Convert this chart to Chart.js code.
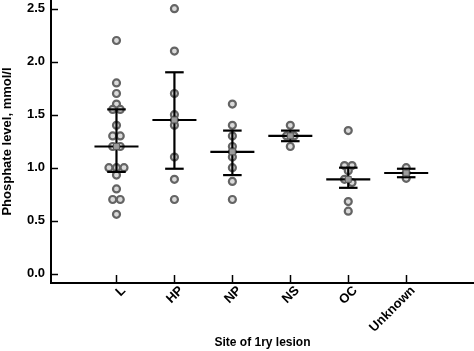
<!DOCTYPE html>
<html>
<head>
<meta charset="utf-8">
<script src="https://cdn.jsdelivr.net/npm/chart.js@4/dist/chart.umd.min.js"></script>
<style>
html,body{margin:0;padding:0;background:#fff;}
canvas{display:block;}
</style>
</head>
<body>
<canvas id="c" width="474" height="351"></canvas>
<script>
// ---- data ----
const categories = ['L', 'HP', 'NP', 'NS', 'OC', 'Unknown'];
const valuesL  = [2.2, 1.8, 1.7, 1.6, 1.55, 1.55, 1.4, 1.3, 1.3, 1.2, 1.2, 1.0, 1.0, 1.0, 0.93, 0.8, 0.7, 0.7, 0.56];
const valuesHP = [2.5, 2.1, 1.7, 1.5, 1.45, 1.4, 1.1, 0.89, 0.7];
const valuesNP = [1.6, 1.4, 1.3, 1.2, 1.15, 1.1, 1.0, 0.87, 0.7];
const valuesNS = [1.4, 1.3, 1.3, 1.2];
const valuesOC = [1.35, 1.02, 1.02, 0.97, 0.89, 0.86, 0.68, 0.59];
const valuesUnknown = [1.0, 0.95, 0.9];
const means    = [1.2, 1.45, 1.15, 1.3, 0.89, 0.95];
const sdUpper  = [1.55, 1.9, 1.35, 1.35, 1.0, 0.99];
const sdLower  = [0.96, 0.99, 0.93, 1.25, 0.81, 0.91];
const yTicks   = [0, 0.5, 1.0, 1.5, 2.0, 2.5];

const groups = [valuesL, valuesHP, valuesNP, valuesNS, valuesOC, valuesUnknown];

// simple symmetric dot-plot spreading of (near) equal values
const STEP = 0.13, TOL = 0.045;
const points = [];
groups.forEach((vals, gi) => {
  const sorted = vals.slice().sort((a, b) => b - a);
  let i = 0;
  while (i < sorted.length) {
    let j = i + 1;
    while (j < sorted.length && Math.abs(sorted[j] - sorted[i]) < TOL) j++;
    const n = j - i;
    for (let k = 0; k < n; k++) {
      points.push({ x: gi + 1 + (k - (n - 1) / 2) * STEP, y: sorted[i + k] });
    }
    i = j;
  }
});
const meanPoints = means.map((m, i) => ({ x: i + 1, y: m }));

const FONT = "'Liberation Sans', Arial, sans-serif";

const errorBars = {
  id: 'errorBars',
  afterDatasetDraw(chart, args) {
    if (args.index !== 1) return;
    const { ctx, scales: { x, y } } = chart;
    ctx.save();
    ctx.strokeStyle = '#000';
    ctx.lineWidth = 2.2;
    ctx.lineCap = 'butt';
    means.forEach((m, i) => {
      const c = i + 1;
      const xc = x.getPixelForValue(c);
      const seg = (x1, y1, x2, y2) => { ctx.beginPath(); ctx.moveTo(x1, y1); ctx.lineTo(x2, y2); ctx.stroke(); };
      seg(xc, y.getPixelForValue(sdUpper[i]), xc, y.getPixelForValue(sdLower[i]));
      const cl = x.getPixelForValue(c - 0.16), cr = x.getPixelForValue(c + 0.16);
      seg(cl, y.getPixelForValue(sdUpper[i]), cr, y.getPixelForValue(sdUpper[i]));
      seg(cl, y.getPixelForValue(sdLower[i]), cr, y.getPixelForValue(sdLower[i]));
      const ml = x.getPixelForValue(c - 0.38), mr = x.getPixelForValue(c + 0.38);
      seg(ml, y.getPixelForValue(m), mr, y.getPixelForValue(m));
    });
    ctx.restore();
  }
};

const inwardTicks = {
  id: 'inwardTicks',
  afterDraw(chart) {
    const { ctx, chartArea, scales: { x, y } } = chart;
    ctx.save();
    ctx.strokeStyle = '#000';
    ctx.lineWidth = 1.5;
    yTicks.forEach(v => {
      const py = Math.round(y.getPixelForValue(v)) + 0.5;
      ctx.beginPath(); ctx.moveTo(chartArea.left, py); ctx.lineTo(chartArea.left + 7, py); ctx.stroke();
    });
    categories.forEach((c, i) => {
      const px = Math.round(x.getPixelForValue(i + 1)) + 0.5;
      ctx.beginPath(); ctx.moveTo(px, chartArea.bottom); ctx.lineTo(px, chartArea.bottom - 8); ctx.stroke();
    });
    ctx.restore();
  }
};

new Chart(document.getElementById('c'), {
  type: 'scatter',
  data: {
    datasets: [
      {
        label: 'Mean',
        data: meanPoints,
        pointStyle: 'rect',
        pointRadius: 4.2,
        backgroundColor: '#9c9c9c',
        borderColor: '#5a5a5a',
        borderWidth: 1
      },
      {
        label: 'Phosphate',
        data: points,
        pointStyle: 'circle',
        pointRadius: 3.5,
        backgroundColor: '#dadada',
        borderColor: '#646464',
        borderWidth: 2.2
      }
    ]
  },
  options: {
    responsive: false,
    animation: false,
    layout: { padding: 0, autoPadding: false },
    plugins: { legend: { display: false }, tooltip: { enabled: false } },
    scales: {
      x: {
        type: 'linear',
        min: -0.13,
        max: 7.17,
        grid: { display: true, drawOnChartArea: false, drawTicks: false },
        border: { display: true, color: '#000', width: 2 },
        afterBuildTicks: s => { s.ticks = categories.map((c, i) => ({ value: i + 1 })); },
        afterFit: s => { s.height = 68; s.paddingLeft = 0; s.paddingRight = 0; },
        ticks: {
          autoSkip: false,
          minRotation: 45,
          maxRotation: 45,
          padding: 0,
          labelOffset: 7,
          color: '#000',
          font: { family: FONT, size: 13, weight: 'bold' },
          callback: v => categories[Math.round(v) - 1]
        },
        title: {
          display: true,
          text: 'Site of 1ry lesion',
          color: '#000',
          padding: { top: 0, bottom: 1 },
          font: { family: FONT, size: 12, weight: 'bold' }
        }
      },
      y: {
        min: -0.088,
        max: 2.582,
        grid: { display: true, drawOnChartArea: false, drawTicks: false },
        border: { display: true, color: '#000', width: 2 },
        afterBuildTicks: s => { s.ticks = yTicks.map(v => ({ value: v })); },
        afterFit: s => { s.width = 51; s.paddingTop = 0; s.paddingBottom = 0; },
        ticks: {
          padding: 6,
          color: '#000',
          font: { family: FONT, size: 13, weight: 'bold' },
          callback: v => Number(v).toFixed(1)
        },
        title: {
          display: true,
          text: 'Phosphate level, mmol/l',
          color: '#000',
          padding: { top: 0, bottom: 0 },
          font: { family: FONT, size: 13, weight: 'bold' }
        }
      }
    }
  },
  plugins: [errorBars, inwardTicks]
});
</script>
</body>
</html>
